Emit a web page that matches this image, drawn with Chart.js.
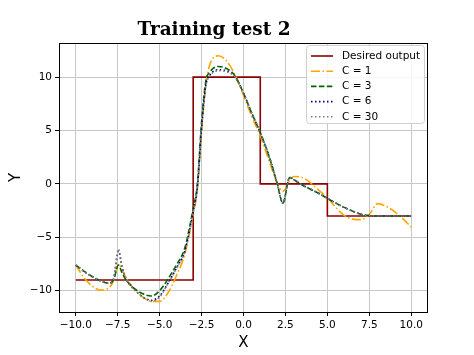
<!DOCTYPE html>
<html>
<head>
<meta charset="utf-8">
<script src="https://cdn.jsdelivr.net/npm/chart.js@4"></script>
<style>
  body { margin: 0; background: #fff; }
  canvas { display: block; }
</style>
</head>
<body>
<canvas id="chart" width="474" height="355"></canvas>
<script>
// step target
const desiredX = [-10, -3, -3, 1, 1, 5, 5, 10];
const desiredY = [-9, -9, 10, 10, 0, 0, -3, -3];

// sample points shared by the fitted curves
const xs = [-10, -9.5, -9, -8.5, -8, -7.75, -7.45, -7.25, -7, -6.5, -6, -5.5, -5, -4.5, -4, -3.5, -3, -2.75, -2.5, -2.25,
  -2, -1.5, -1, -0.5, 0, 0.5, 1, 1.5, 2, 2.35, 2.75, 3, 3.5, 4, 4.5, 5, 5.5, 6, 6.5, 7, 7.5, 8, 8.5, 9, 9.5, 10];

const c1 = [-7.6, -8.8, -9.6, -9.95, -9.7, -9.1, -7.5, -8.0, -8.8, -9.9, -10.6, -11.0, -11.0, -10.2, -8.6, -6.6, -2.8, -0.5, 4.8, 9.3,
  11.2, 12.0, 11.5, 10.2, 8.3, 6.3, 4.5, 2.3, 0.1, -0.7, 0.3, 0.7, 0.6, 0.1, -0.6, -1.3, -2.2, -2.95, -3.3, -3.35, -2.85, -1.85, -2.1, -2.6, -3.25, -4.05];

const c3 = [-7.6, -8.2, -8.7, -9.1, -9.3, -9.0, -7.6, -8.3, -9.0, -9.8, -10.3, -10.5, -10.0, -8.9, -7.6, -6.0, -2.3, 0.0, 5.8, 9.6,
  10.5, 11.0, 10.8, 10.1, 8.5, 6.6, 4.8, 2.7, 0.1, -1.8, 0.6, 0.4, -0.1, -0.5, -0.9, -1.35, -1.8, -2.2, -2.55, -2.85, -2.97, -3, -3, -3, -3, -3];

const c6 = [-7.6, -8.2, -8.7, -9.1, -9.3, -8.9, -6.3, -7.7, -8.9, -9.9, -10.6, -10.9, -10.5, -9.3, -7.9, -6.3, -2.6, -0.3, 5.2, 9.2,
  10.2, 10.7, 10.6, 10.0, 8.5, 6.6, 4.8, 2.7, 0.1, -1.8, 0.6, 0.4, -0.1, -0.5, -0.9, -1.35, -1.8, -2.2, -2.55, -2.85, -2.97, -3, -3, -3, -3, -3];

const c30 = [-7.6, -8.2, -8.7, -9.1, -9.3, -8.9, -6.1, -7.6, -8.9, -9.9, -10.6, -11.0, -10.6, -9.3, -7.9, -6.3, -2.6, -0.3, 5.1, 9.1,
  10.1, 10.6, 10.5, 10.0, 8.5, 6.6, 4.8, 2.7, 0.1, -1.8, 0.6, 0.4, -0.1, -0.5, -0.9, -1.35, -1.8, -2.2, -2.55, -2.85, -2.97, -3, -3, -3, -3, -3];

const xTicks = [-10, -7.5, -5, -2.5, 0, 2.5, 5, 7.5, 10];
const yTicks = [-10, -5, 0, 5, 10];

const labels = ["Desired output", "C = 1", "C = 3", "C = 6", "C = 30"];
const colors = ["#8b0000", "#ffa500", "#006400", "#00007a", "#808080"];
const dashes = [[], [9, 2.5, 1.5, 2.5], [5.5, 2.4], [1.5, 2.5], [1.5, 2.5]];

const pts = (xv, yv) => xv.map((x, i) => ({ x: x, y: yv[i] }));
const minus = s => String(s).replace("-", "\u2212");

function line(i, data, smooth) {
  return {
    label: labels[i],
    data: data,
    borderColor: colors[i],
    borderWidth: 1.6,
    borderDash: dashes[i],
    pointRadius: 0,
    fill: false,
    tension: 0,
    cubicInterpolationMode: smooth ? "monotone" : "default",
    order: 4 - i,
  };
}

const frameAndLegend = {
  id: "frameAndLegend",
  afterDraw(chart) {
    const { ctx, chartArea: a } = chart;
    ctx.save();
    ctx.strokeStyle = "#000";
    ctx.lineWidth = 1;
    ctx.strokeRect(Math.round(a.left) + 0.5, Math.round(a.top) + 0.5,
      Math.round(a.right - a.left) - 1, Math.round(a.bottom - a.top));

    // legend box, upper right
    const bx = 306, by = 45, bw = 118, bh = 78;
    ctx.fillStyle = "rgba(255,255,255,0.85)";
    ctx.strokeStyle = "#d0d0d0";
    ctx.beginPath();
    ctx.roundRect(bx + 0.5, by + 0.5, bw, bh, 3);
    ctx.fill();
    ctx.stroke();
    ctx.font = "10.5px 'DejaVu Sans'";
    ctx.textBaseline = "middle";
    labels.forEach((lab, i) => {
      const y = by + 11 + i * 15.2;
      ctx.strokeStyle = colors[i];
      ctx.lineWidth = 1.6;
      ctx.setLineDash(dashes[i]);
      ctx.beginPath();
      ctx.moveTo(bx + 5, y);
      ctx.lineTo(bx + 27, y);
      ctx.stroke();
      ctx.setLineDash([]);
      ctx.fillStyle = "#000";
      ctx.fillText(lab, bx + 36, y);
    });
    ctx.restore();
  }
};

new Chart(document.getElementById("chart"), {
  type: "line",
  data: {
    datasets: [
      line(0, pts(desiredX, desiredY), false),
      line(1, pts(xs, c1), true),
      line(2, pts(xs, c3), true),
      line(3, pts(xs, c6), true),
      line(4, pts(xs, c30), true),
    ],
  },
  options: {
    responsive: false,
    animation: false,
    layout: { padding: { top: 0, right: 46, bottom: 0, left: 0 } },
    plugins: {
      legend: { display: false },
      tooltip: { enabled: false },
      title: {
        display: true,
        text: "Training test 2",
        color: "#000",
        font: { family: "'DejaVu Serif'", size: 18.5, weight: "bold", lineHeight: 1.2 },
        padding: { top: 19.5, bottom: 1.3 },
      },
    },
    scales: {
      x: {
        type: "linear",
        min: -11,
        max: 11,
        afterBuildTicks: s => { s.ticks = xTicks.map(v => ({ value: v })); },
        afterFit: s => { s.height = 43; },
        ticks: {
          color: "#000",
          font: { family: "'DejaVu Sans'", size: 10.5 },
          padding: 3,
          maxRotation: 0,
          callback: v => minus(v.toFixed(1)),
        },
        grid: { color: "#c8c8c8", lineWidth: 1, tickLength: 4, tickColor: "#000" },
        border: { display: false },
        title: {
          display: true,
          text: "X",
          color: "#000",
          font: { family: "'DejaVu Sans'", size: 15, lineHeight: 1.2 },
          padding: { top: 0, bottom: 2.4 },
        },
      },
      y: {
        type: "linear",
        min: -12,
        max: 13.2,
        afterBuildTicks: s => { s.ticks = yTicks.map(v => ({ value: v })); },
        afterFit: s => { s.width = 59; },
        ticks: {
          color: "#000",
          font: { family: "'DejaVu Sans'", size: 10.5 },
          padding: 3,
          callback: v => minus(v),
        },
        grid: { color: "#c8c8c8", lineWidth: 1, tickLength: 4, tickColor: "#000" },
        border: { display: false },
        title: {
          display: true,
          text: "Y",
          color: "#000",
          font: { family: "'DejaVu Sans'", size: 15, lineHeight: 1.2 },
          padding: { top: 7, bottom: 0 },
        },
      },
    },
  },
  plugins: [frameAndLegend],
});
</script>
</body>
</html>
